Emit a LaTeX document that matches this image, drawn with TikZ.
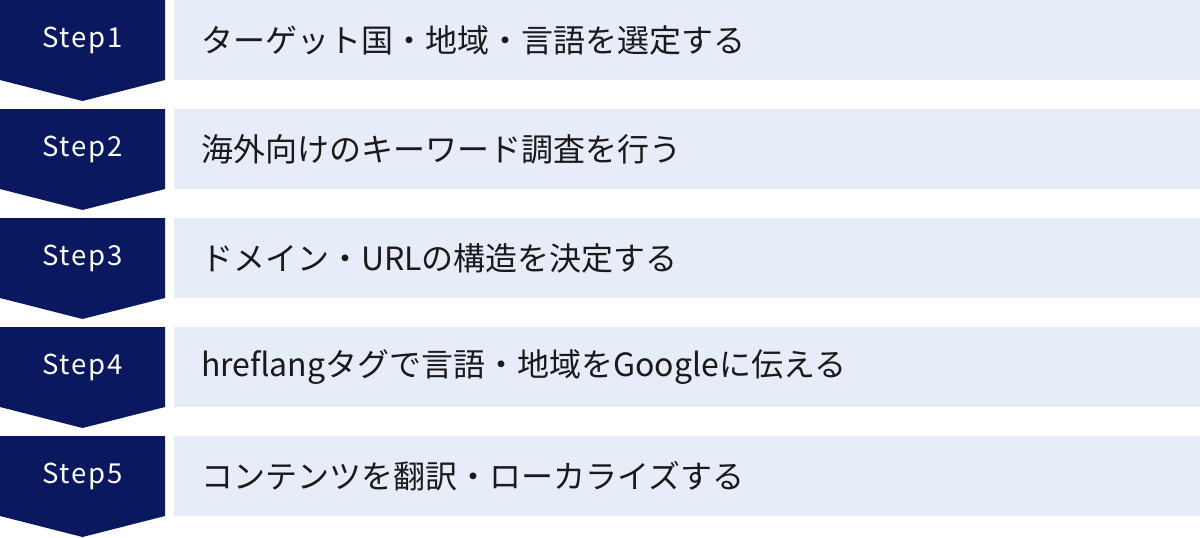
\documentclass[tikz,border=0pt]{standalone}
\usepackage{fontspec}
\setmainfont{Noto Sans CJK JP}
\newfontfamily\stepfont[LetterSpace=7]{Noto Sans CJK JP}
\definecolor{navy}{RGB}{10,25,95}
\definecolor{paleblue}{RGB}{230,236,248}
\definecolor{ink}{RGB}{26,26,26}
\begin{document}
\begin{tikzpicture}[x=1pt,y=-1pt,
  chev/.style={fill=navy},
  steplabel/.style={text=white,inner sep=0pt,anchor=base,font=\stepfont\fontsize{27.5}{28}\selectfont},
  boxbg/.style={fill=paleblue,draw=none,minimum width=1026pt,minimum height=80pt,inner sep=0pt,anchor=north west},
  desc/.style={text=ink,inner sep=0pt,anchor=west,font=\fontsize{32}{32}\selectfont}]
\useasboundingbox (0,0) rectangle (1200,538);
\foreach \i/\t in {1/ターゲット国・地域・言語を選定する,
                   2/海外向けのキーワード調査を行う,
                   3/ドメイン・URLの構造を決定する,
                   4/hreflangタグで言語・地域をGoogleに伝える,
                   5/コンテンツを翻訳・ローカライズする}{
  \pgfmathsetmacro{\top}{(\i-1)*109}
  \fill[chev] (0,\top) -- (165,\top) -- (165,\top+80) -- (82.5,\top+101) -- (0,\top+80) -- cycle;
  \node[steplabel] (s\i) at (82.5,\top+47) {Step\i};
  \node[boxbg] (b\i) at (174,\top) {};
  \node[desc] (d\i) at (201,\top+40) {\t};
}
\end{tikzpicture}
\end{document}
